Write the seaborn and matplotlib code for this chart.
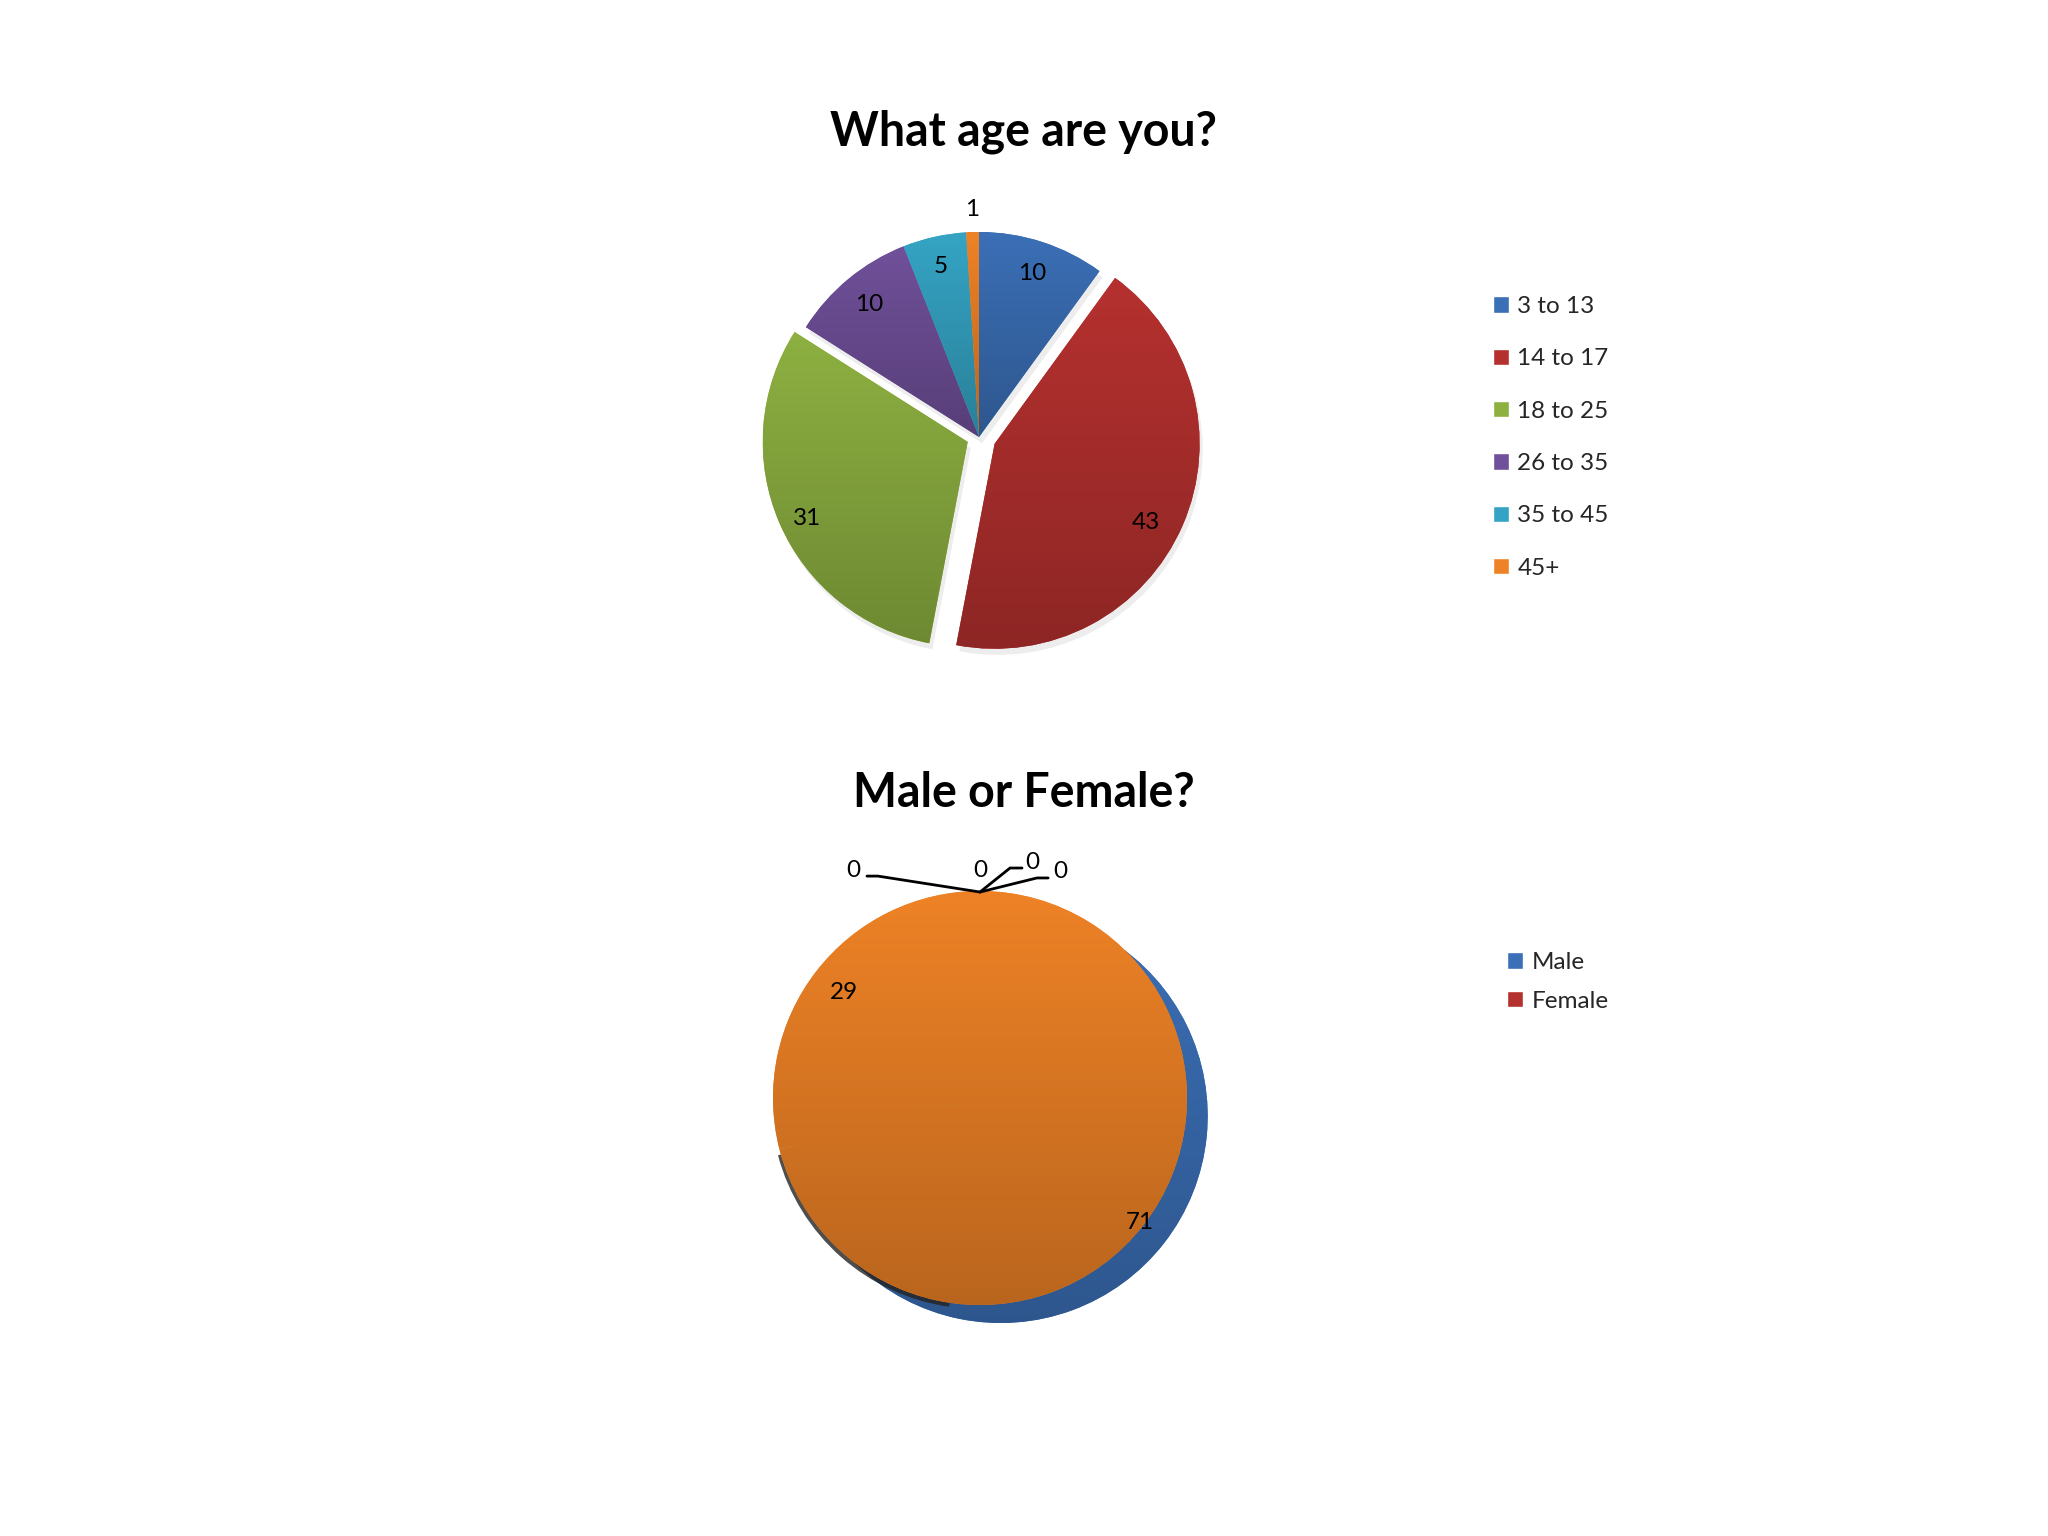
import numpy as np
import matplotlib.pyplot as plt
import seaborn as sns
from matplotlib.patches import Patch, Wedge
from matplotlib.colors import to_rgb

sns.set_style("white")
plt.rcParams['font.family'] = ['Lato', 'DejaVu Sans']

# data
age_groups = ['3 to 13', '14 to 17', '18 to 25', '26 to 35', '35 to 45', '45+']
age_counts = [10, 43, 31, 10, 5, 1]
gender_labels = ['Male', 'Female']
gender_counts = [29, 71]
stray_zero_counts = [0, 0, 0, 0]

age_colors = sns.color_palette(['#3b6fb6', '#b5312f', '#8db041', '#70509a', '#35a4c4', '#ee8226'])
gender_colors = sns.color_palette(['#3b6fb6', '#b5312f'])
orange = '#ee8226'

W, H = 2048, 1536
fig = plt.figure(figsize=(W / 100, H / 100), dpi=100)


def px_axes(cx, cy, half):
    # square axes centred on a pixel position of the page
    return fig.add_axes([(cx - half) / W, 1 - (cy + half) / H, 2 * half / W, 2 * half / H])


def shade(ax, wedge, color, extent=None, dark=0.78):
    # excel style vertical gradient, clipped to the wedge
    top = np.array(to_rgb(color))
    bot = top * dark
    t = np.linspace(0, 1, 256)[:, None, None]
    img = top * (1 - t) + bot * t
    if extent is None:
        bb = wedge.get_path().get_extents()
        extent = (bb.x0, bb.x1, bb.y0, bb.y1)
    im = ax.imshow(img, extent=extent, origin='upper', aspect='auto',
                   zorder=wedge.get_zorder() + 0.01, interpolation='bilinear')
    im.set_clip_path(wedge)


# ---- top chart: What age are you? ----
half = 300
ax1 = px_axes(979, 437, half)
lim1 = half / 205

# soft drop shadow
sh, _ = ax1.pie(age_counts, startangle=90, counterclock=False,
                explode=[0, 0.083, 0.06, 0, 0, 0], center=(0.015, -0.03),
                colors=['#000000'] * len(age_counts), wedgeprops=dict(linewidth=0, alpha=0.07))
wedges, _ = ax1.pie(age_counts, startangle=90, counterclock=False,
                    explode=[0, 0.083, 0.06, 0, 0, 0], colors=age_colors,
                    wedgeprops=dict(linewidth=0))
for w, c in zip(wedges, age_colors):
    w.set_zorder(2)
    shade(ax1, w, c)

label_dist = [0.84, 0.83, 0.87, 0.84, 0.85, 1.11]
for w, v, d in zip(wedges, age_counts, label_dist):
    a = np.deg2rad((w.theta1 + w.theta2) / 2)
    if v == 43:
        a -= np.deg2rad(4)
    if v == 31:
        a += np.deg2rad(2)
    cx, cy = w.center
    ax1.text(cx + d * np.cos(a), cy + d * np.sin(a), str(v), ha='center', va='center',
             fontsize=17.5, color='black', zorder=5)

ax1.set_xlim(-lim1, lim1)
ax1.set_ylim(-lim1, lim1)
ax1.set_aspect('equal')
ax1.axis('off')

fig.text(1024 / W, 1 - 145 / H, 'What age are you?', ha='center', va='baseline',
         fontsize=33.5, fontweight='bold', color='black')

fig.legend([Patch(facecolor=c) for c in age_colors], age_groups,
           loc='upper left', bbox_to_anchor=(1493 / W, 1 - 296 / H),
           frameon=False, fontsize=17.5, handlelength=0.66, handleheight=0.66,
           handletextpad=0.34, labelspacing=1.29, borderpad=0, borderaxespad=0)

# ---- bottom chart: Male or Female? ----
ax2 = px_axes(980, 1098, half)
lim2 = half / 207
off = (0.10, -0.087)

back, _ = ax2.pie(gender_counts, startangle=90, center=off, radius=1,
                  colors=[gender_colors[0]] * 2, wedgeprops=dict(linewidth=0))
for w in back:
    w.set_zorder(1)
    shade(ax2, w, gender_colors[0], extent=(off[0] - 1, off[0] + 1, off[1] - 1, off[1] + 1))

edge = Wedge((-0.01, -0.018), 1, 195, 262, facecolor='#222222', linewidth=0, alpha=0.8, zorder=2)
ax2.add_patch(edge)

front, _ = ax2.pie(gender_counts, startangle=90, radius=1,
                   colors=[orange] * 2, wedgeprops=dict(linewidth=0))
for w in front:
    w.set_zorder(3)
    shade(ax2, w, orange, extent=(-1, 1, -1, 1))

gender_dist = [0.83, 0.98]
for w, v, d in zip(front, gender_counts, gender_dist):
    a = np.deg2rad((w.theta1 + w.theta2) / 2)
    ax2.text(d * np.cos(a), d * np.sin(a), str(v), ha='center', va='center',
             fontsize=17.5, color='black', zorder=6)

# leader lines for the empty points at the top of the pie
zero_pos = [(-0.614, 1.101), (0.0, 1.101), (0.251, 1.140), (0.386, 1.092)]
leaders = [[(-0.546, 1.072), (-0.493, 1.072), (0, 0.995)],
           None,
           [(0.203, 1.111), (0.145, 1.111), (0, 0.995)],
           [(0.329, 1.063), (0.275, 1.063), (0, 0.995)]]
for v, (x, y), ld in zip(stray_zero_counts, zero_pos, leaders):
    ax2.text(x, y, str(v), ha='center', va='center', fontsize=17.5, color='black', zorder=6)
    if ld is not None:
        xs, ys = zip(*ld)
        ax2.plot(xs, ys, color='black', linewidth=2, zorder=6, solid_joinstyle='miter')

ax2.set_xlim(-lim2, lim2)
ax2.set_ylim(-lim2, lim2)
ax2.set_aspect('equal')
ax2.axis('off')

fig.text(1024 / W, 1 - 807 / H, 'Male or Female?', ha='center', va='baseline',
         fontsize=33.5, fontweight='bold', color='black')

fig.legend([Patch(facecolor=c) for c in gender_colors], gender_labels,
           loc='upper left', bbox_to_anchor=(1507 / W, 1 - 952 / H),
           frameon=False, fontsize=17.5, handlelength=0.66, handleheight=0.66,
           handletextpad=0.34, labelspacing=0.72, borderpad=0, borderaxespad=0)

fig.savefig('out.png', dpi=100, facecolor='white')
